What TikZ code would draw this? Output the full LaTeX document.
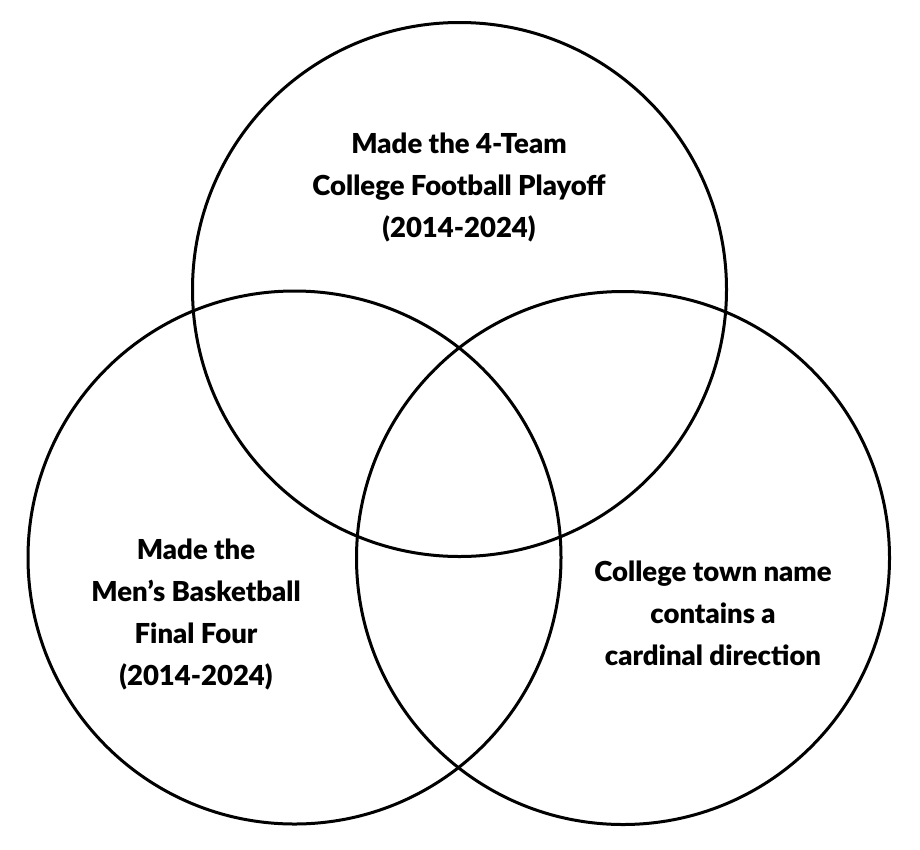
\documentclass[tikz,border=0pt]{standalone}
\usepackage{fontspec}
\setmainfont{Lato Black}
\begin{document}
\begin{tikzpicture}[x=1pt,y=-1pt,
  circ/.style={draw=black,line width=3pt},
  lab/.style={align=center,font=\fontsize{27.5}{42}\selectfont,text=black}]
\useasboundingbox (0,0) rectangle (920,849);
\fill[white] (0,0) rectangle (920,849);
\node[circ,circle,minimum size=534pt,inner sep=0pt] (top) at (459.5,289.5) {};
\node[circ,circle,minimum size=533pt,inner sep=0pt] (left) at (294.5,557.5) {};
\node[circ,circle,minimum size=533pt,inner sep=0pt] (right) at (623,558) {};
\node[lab] (tt) at (459,187) {Made the 4-Team\\College Football Playoff\\(2014-2024)};
\node[lab] (lt) at (196,614) {Made the\\Men's Basketball\\Final Four\\(2014-2024)};
\node[lab] (rt) at (713,613) {College town name\\contains a\\cardinal direction};
\end{tikzpicture}
\end{document}
